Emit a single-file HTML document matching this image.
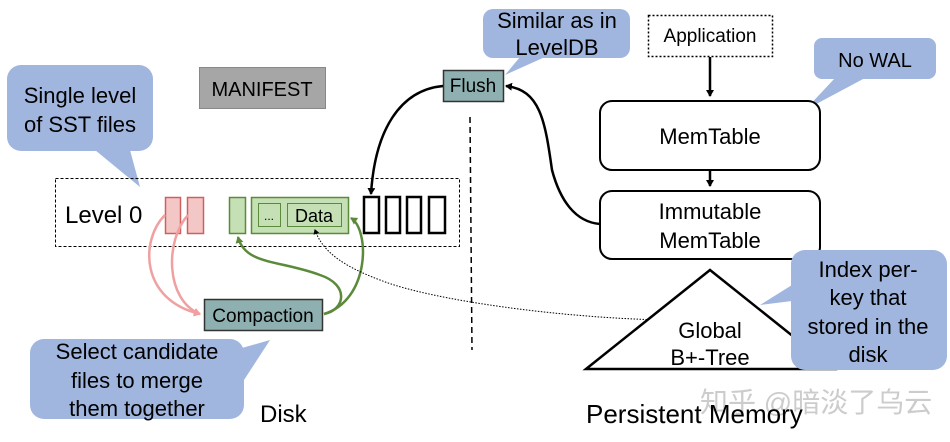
<!DOCTYPE html>
<html><head><meta charset="utf-8"><style>
body{margin:0;width:950px;height:437px;background:#fff;overflow:hidden}
text{font-family:"Liberation Sans","Noto Sans CJK SC",sans-serif}
</style></head><body>
<svg width="950" height="437" viewBox="0 0 950 437" xmlns="http://www.w3.org/2000/svg">
<defs>
<marker id="ab" markerWidth="8" markerHeight="8" refX="6" refY="4" orient="auto" markerUnits="userSpaceOnUse"><path d="M0,0 L7,4 L0,8 z" fill="#000"/></marker>
<marker id="ag" markerWidth="8" markerHeight="8" refX="6" refY="4" orient="auto" markerUnits="userSpaceOnUse"><path d="M0,0 L7,4 L0,8 z" fill="#5a8a3a"/></marker>
<marker id="ap" markerWidth="8" markerHeight="8" refX="6" refY="4" orient="auto" markerUnits="userSpaceOnUse"><path d="M0,0 L7,4 L0,8 z" fill="#f0a0a0"/></marker>
<marker id="ad" markerWidth="6" markerHeight="6" refX="4" refY="3" orient="auto" markerUnits="userSpaceOnUse"><path d="M0,0 L5,3 L0,6 z" fill="#000"/></marker>
</defs>
<g fill="#a0b6de">
<rect x="7" y="65" width="146" height="86" rx="14"/><path d="M95,150 L140,187 L130,150 z"/>
<rect x="30" y="339" width="214" height="80" rx="14"/><path d="M235,350 L270,340 L244,380 z"/>
<rect x="483" y="9" width="147" height="49" rx="10"/><path d="M505,75 L520,57 L545,57 z"/>
<rect x="814" y="38" width="122" height="41" rx="8"/><path d="M805,110 L835,78 L865,78 z"/>
</g>
<text x="80" y="103" font-size="22" text-anchor="middle">Single level</text>
<text x="80" y="132" font-size="22" text-anchor="middle">of SST files</text>
<text x="137" y="359" font-size="22" text-anchor="middle">Select candidate</text>
<text x="137" y="388" font-size="22" text-anchor="middle">files to merge</text>
<text x="137" y="416" font-size="22" text-anchor="middle">them together</text>
<text x="557" y="28" font-size="22" text-anchor="middle">Similar as in</text>
<text x="557" y="55" font-size="22" text-anchor="middle">LevelDB</text>
<text x="875" y="67" font-size="20" text-anchor="middle">No WAL</text>
<rect x="199.5" y="67.5" width="126" height="41" fill="#a6a6a6" stroke="#888"/>
<text x="262" y="96" font-size="20" text-anchor="middle">MANIFEST</text>
<rect x="55.5" y="178.5" width="404" height="68" fill="none" stroke="#000" stroke-dasharray="3,2"/>
<text x="65" y="223" font-size="24">Level 0</text>
<rect x="165.5" y="197.5" width="15" height="36" fill="#f4c7c7" stroke="#d06060" stroke-width="1.5"/>
<rect x="187.5" y="197.5" width="16" height="36" fill="#f4c7c7" stroke="#d06060" stroke-width="1.5"/>
<rect x="229.5" y="197.5" width="16" height="36" fill="#c5e0b4" stroke="#5a8a3a" stroke-width="1.5"/>
<rect x="251.5" y="197.5" width="97" height="36" fill="#c5e0b4" stroke="#5a8a3a" stroke-width="1.5"/>
<rect x="258.5" y="203.5" width="22" height="23" fill="#c5e0b4" stroke="#5a8a3a"/>
<rect x="287.5" y="203.5" width="54" height="23" fill="#c5e0b4" stroke="#5a8a3a"/>
<text x="269" y="220" font-size="12" text-anchor="middle">...</text>
<text x="314" y="222" font-size="18" text-anchor="middle">Data</text>
<g fill="#fff" stroke="#000" stroke-width="2.5">
<rect x="364" y="197" width="15" height="36"/><rect x="386" y="197" width="14" height="36"/>
<rect x="407" y="197" width="14" height="36"/><rect x="429" y="197" width="16" height="36"/>
</g>
<rect x="204.5" y="299.5" width="118" height="31" fill="#8fb0b0" stroke="#333" stroke-width="1.5"/>
<text x="263" y="322" font-size="19" text-anchor="middle">Compaction</text>
<path d="M165,215 C140,240 140,300 200,314" fill="none" stroke="#f0a0a0" stroke-width="2.5" marker-end="url(#ap)"/>
<path d="M188,215 C165,240 165,300 200,314" fill="none" stroke="#f0a0a0" stroke-width="2.5" marker-end="url(#ap)"/>
<path d="M324,314 C345,310 350,285 320,275 C280,260 245,265 238,237" fill="none" stroke="#5a8a3a" stroke-width="2.5" marker-end="url(#ag)"/>
<path d="M324,314 C370,300 370,230 351,218" fill="none" stroke="#5a8a3a" stroke-width="2.5" marker-end="url(#ag)"/>
<path d="M665,320 C560,318 430,300 380,280 C340,265 322,250 315,230" fill="none" stroke="#000" stroke-dasharray="1.5,1.5" marker-end="url(#ad)"/>
<rect x="443.5" y="70.5" width="60" height="31" fill="#8fb0b0" stroke="#333" stroke-width="1.5"/>
<text x="473" y="92" font-size="19" text-anchor="middle">Flush</text>
<path d="M443,86 C400,90 375,130 371,194" fill="none" stroke="#000" stroke-width="2.5" marker-end="url(#ab)"/>
<path d="M600,224 C575,222 560,200 552,170 C545,120 540,90 506,86" fill="none" stroke="#000" stroke-width="2.5" marker-end="url(#ab)"/>
<line x1="470" y1="117" x2="472" y2="350" stroke="#000" stroke-width="1.5" stroke-dasharray="6,4"/>
<rect x="648.5" y="15.5" width="124" height="41" fill="#fff" stroke="#000" stroke-width="1.5" stroke-dasharray="2,2"/>
<text x="710" y="42" font-size="19" text-anchor="middle">Application</text>
<line x1="710" y1="57" x2="710" y2="96" stroke="#000" stroke-width="2.5" marker-end="url(#ab)"/>
<rect x="600" y="101" width="220" height="69" rx="12" fill="#fff" stroke="#000" stroke-width="2"/>
<text x="710" y="144" font-size="22" text-anchor="middle">MemTable</text>
<line x1="710" y1="170" x2="710" y2="186" stroke="#000" stroke-width="2.5" marker-end="url(#ab)"/>
<rect x="600" y="191" width="220" height="68" rx="12" fill="#fff" stroke="#000" stroke-width="2"/>
<text x="710" y="219" font-size="22" text-anchor="middle">Immutable</text>
<text x="710" y="248" font-size="22" text-anchor="middle">MemTable</text>
<path d="M586,369 L710,270 L834,369 z" fill="#fff" stroke="#000" stroke-width="2.5"/>
<g fill="#a0b6de"><rect x="791" y="250" width="156" height="120" rx="14"/><path d="M760,305 L800,280 L800,300 z"/></g>
<text x="710" y="338" font-size="22" text-anchor="middle">Global</text>
<text x="710" y="365" font-size="22" text-anchor="middle">B+-Tree</text>
<text x="868" y="277" font-size="22" text-anchor="middle">Index per-</text>
<text x="868" y="305" font-size="22" text-anchor="middle">key that</text>
<text x="868" y="334" font-size="22" text-anchor="middle">stored in the</text>
<text x="868" y="362" font-size="22" text-anchor="middle">disk</text>
<text x="700" y="412" font-size="28" fill="#ccc">知乎 @暗淡了乌云</text>
<text x="260" y="422" font-size="24">Disk</text>
<text x="586" y="423" font-size="26">Persistent Memory</text>
</svg>
</body></html>
